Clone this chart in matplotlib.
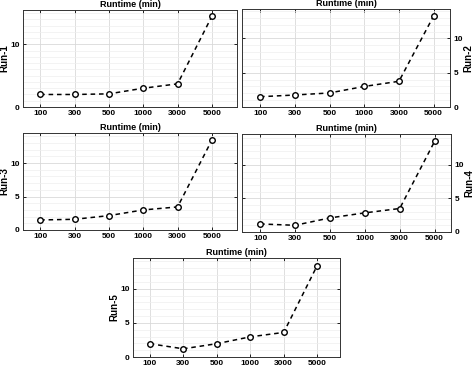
import matplotlib
matplotlib.use('Agg')
import matplotlib.pyplot as plt
from matplotlib.ticker import MultipleLocator

plt.rcParams['font.family'] = ['Liberation Sans', 'DejaVu Sans']
plt.rcParams['font.weight'] = 'bold'

#x categories
runtimes = ['100', '300', '500', '1000', '3000', '5000']

run1 = [2.0, 2.0, 2.1, 3.0, 3.7, 14.5]
run2 = [1.5, 1.75, 2.05, 3.0, 3.75, 13.3]
run3 = [1.5, 1.6, 2.15, 3.0, 3.45, 13.45]
run4 = [1.2, 1.0, 2.1, 2.85, 3.5, 13.5]
run5 = [1.95, 1.2, 1.95, 2.95, 3.6, 13.4]

runs = [run1, run2, run3, run4, run5]
names = ['Run-1', 'Run-2', 'Run-3', 'Run-4', 'Run-5']

#axes boxes in pixels: left, top, right, bottom
W, H = 474, 368
boxes = [(23, 10, 237, 107),
         (242, 9, 450, 107),
         (23, 133, 237, 230),
         (242, 134, 451, 232),
         (133, 258, 340, 357)]
ytops = [15.5, 14.3, 14.5, 14.6, 14.5]
yticks = [[0, 10], [0, 5, 10], [0, 5, 10], [0, 5, 10], [0, 5, 10]]
right_side = [False, True, False, True, False]
xlims = [(0.5, 6.73), (0.48, 6.47), (0.5, 6.73), (0.48, 6.47), (0.5, 6.68)]

fig = plt.figure(figsize=(W / 100, H / 100), dpi=100)

for i in range(5):
    l, t, r, b = boxes[i]
    ax = fig.add_axes([l / W, 1 - b / H, (r - l) / W, (b - t) / H])
    x = list(range(1, len(runtimes) + 1))
    ax.plot(x, runs[i], 'k--', lw=1.1, marker='o', markersize=4,
            markerfacecolor='white', markeredgecolor='black', markeredgewidth=1.0,
            dashes=(3, 2.5))
    ax.set_xticks(x)
    ax.set_xticklabels(runtimes)
    ax.set_xlim(*xlims[i])
    ax.set_ylim(0, ytops[i])
    ax.set_yticks(yticks[i])
    ax.yaxis.set_minor_locator(MultipleLocator(1))
    ax.grid(True, which='major', color='#d9d9d9', lw=0.6)
    ax.grid(True, which='minor', axis='y', color='#eeeeee', lw=0.5)
    ax.set_axisbelow(True)
    ax.tick_params(direction='in', labelsize=6, length=2.5, width=0.6, pad=2.5)
    ax.tick_params(which='minor', length=0)
    for lab in ax.get_xticklabels() + ax.get_yticklabels():
        lab.set_fontweight('bold')
    for s in ax.spines.values():
        s.set_linewidth(0.7)
        s.set_color('#333333')
    ax.set_title('Runtime (min)', fontsize=6.5, fontweight='bold', pad=2)
    if right_side[i]:
        ax.yaxis.tick_right()
        ax.yaxis.set_label_position('right')
        ax.tick_params(axis='y', left=True, right=True, direction='in')
    else:
        ax.tick_params(axis='y', left=True, right=True)
    ax.tick_params(axis='x', top=True, bottom=True)
    ax.set_ylabel(names[i], fontsize=7, fontweight='bold', labelpad=0.5)

fig.savefig('out.png', dpi=100)
